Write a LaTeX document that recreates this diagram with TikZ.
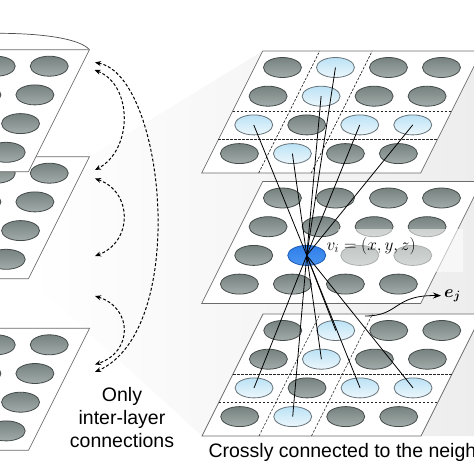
\documentclass[tikz,border=0pt]{standalone}
\usepackage{fontspec}
\setmainfont{Liberation Sans}
\usepackage{bm}
\usetikzlibrary{arrows.meta,shapes.geometric}

\definecolor{dottop}{HTML}{76827F}
\definecolor{dotbot}{HTML}{A2ACAA}
\definecolor{dotedge}{HTML}{454B4A}
\definecolor{nbrtop}{HTML}{BBE2F5}
\definecolor{nbrbot}{HTML}{EDF7FC}
\definecolor{nbredge}{HTML}{66737A}
\definecolor{vtop}{HTML}{2F7FEA}
\definecolor{vbot}{HTML}{4A95F2}
\definecolor{vedge}{HTML}{1D5BB5}

\begin{document}
\begin{tikzpicture}[x=1pt,y=-1pt,>={Stealth[length=6pt,width=5pt]},
  layer/.style={draw=black!58,fill=white,line width=0.7pt},
  dot/.style={ellipse,minimum width=38pt,minimum height=20pt,inner sep=0pt,
    draw=dotedge,line width=0.8pt,top color=dottop,bottom color=dotbot},
  nbr/.style={draw=nbredge,top color=nbrtop,bottom color=nbrbot},
  vnode/.style={draw=vedge,top color=vtop,bottom color=vbot},
  nb13/.style=nbr, nb12/.style=nbr, nb01/.style=nbr,
  nb21/.style=nbr, nb31/.style=nbr, nb10/.style=nbr,
  mid11/.style=vnode,
  griddash/.style={black!85,line width=0.6pt,dash pattern=on 2.5pt off 1.5pt},
  link/.style={black,line width=0.8pt},
  hop/.style={<->,black,line width=1pt,dash pattern=on 3pt off 2pt},
  label/.style={font=\fontsize{19.5}{23}\selectfont}]

\useasboundingbox (0,0) rectangle (474,474);
\clip (0,0) rectangle (474,474);

% shaded beam from the left stack to the right one
\shade[left color=white,right color=black!7]
  (90,156.7) -- (262.7,51) -- (474,51) -- (474,436) -- (202,436) -- (29,278.7) -- cycle;

% rim above the left stack
\draw[black!70,line width=0.7pt] (0,33.3) .. controls (45,33.5) and (80,39) .. (89.5,49.7);

% left stack
\foreach \n/\y in {lb/450.3,lm/278.7,lt/171.7}{
  \draw[layer] (-190.5,\y) -- ++(219,0) -- ++(61,-122) -- ++(-219,0) -- cycle;
  \foreach \j in {0,...,3}
    \foreach \i in {0,...,3}
      \node[dot] (\n-\i-\j) at ({-190.5+28+53*\i+0.5*(19.4+28.7*\j)},{\y-19.4-28.7*\j}) {};
}

% right stack
\foreach \n/\x/\y/\p in {t/201.7/173/nb,m/201.7/303.5/mid,b/202/436/nb}{
  \draw[layer] (\x,\y) -- ++(219,0) -- ++(61,-122) -- ++(-219,0) -- cycle;
  \foreach \j in {0,...,3}
    \foreach \i in {0,...,3}
      \node[dot,\p\i\j/.try] (\n-\i-\j) at ({\x+28+53*\i+0.5*(19.4+28.7*\j)},{\y-19.4-28.7*\j}) {};
}

% neighbourhood grid
\foreach \x/\y in {201.7/173,202/436}{
  \draw[griddash] (\x+57,\y) -- ++(61,-122);
  \draw[griddash] (\x+109.5,\y) -- ++(61,-122);
  \draw[griddash] (\x+16.75,\y-33.5) -- ++(219,0);
  \draw[griddash] (\x+31,\y-62) -- ++(219,0);
}

% cross connections
\foreach \i/\j in {1/3,1/2,0/1,2/1,3/1,1/0}{
  \draw[link] (m-1-1.center) -- (t-\i-\j.center);
  \draw[link] (m-1-1.center) -- (b-\i-\j.center);
}

\node[fill=white,fill opacity=0.55,minimum width=125pt,minimum height=43pt,
  inner sep=0pt,anchor=north west] (vbox) at (338,229) {};
\node[anchor=base west,font=\fontsize{18}{21}\selectfont] (vi) at (323,250) {$v_i = (x,y,z)$};

\coordinate (ej-start) at (365,316);
\node[anchor=base west,inner sep=3pt,font=\fontsize{18}{21}\selectfont] (ej) at (441,297) {$\bm{e_j}$};
\draw[->,line width=0.8pt,>={Stealth[length=8pt,width=6pt]}]
  (ej-start) .. controls (400,316) and (393,295) .. (ej.west);

% inter-layer hops
\coordinate (p1) at (95,62.5);
\coordinate (p2) at (94.5,70);
\coordinate (p3) at (95,170);
\coordinate (p4) at (95,178.5);
\coordinate (p5) at (95,256);
\coordinate (p6) at (95,296);
\coordinate (p7) at (95,364.5);
\coordinate (p8) at (95,372);
\draw[hop] (p1) .. controls (165,75) and (190,330) .. (p8);
\draw[hop] (p2) .. controls (133,85) and (133,150) .. (p3);
\draw[hop] (p4) .. controls (133,192) and (133,242) .. (p5);
\draw[hop] (p6) .. controls (133,308) and (133,352) .. (p7);

\node[label,align=center] (only) at (122,418) {Only\\inter-layer\\connections};
\node[label,anchor=base west] (cross) at (205,457) {Crossly connected to the neigh};

\end{tikzpicture}
\end{document}
